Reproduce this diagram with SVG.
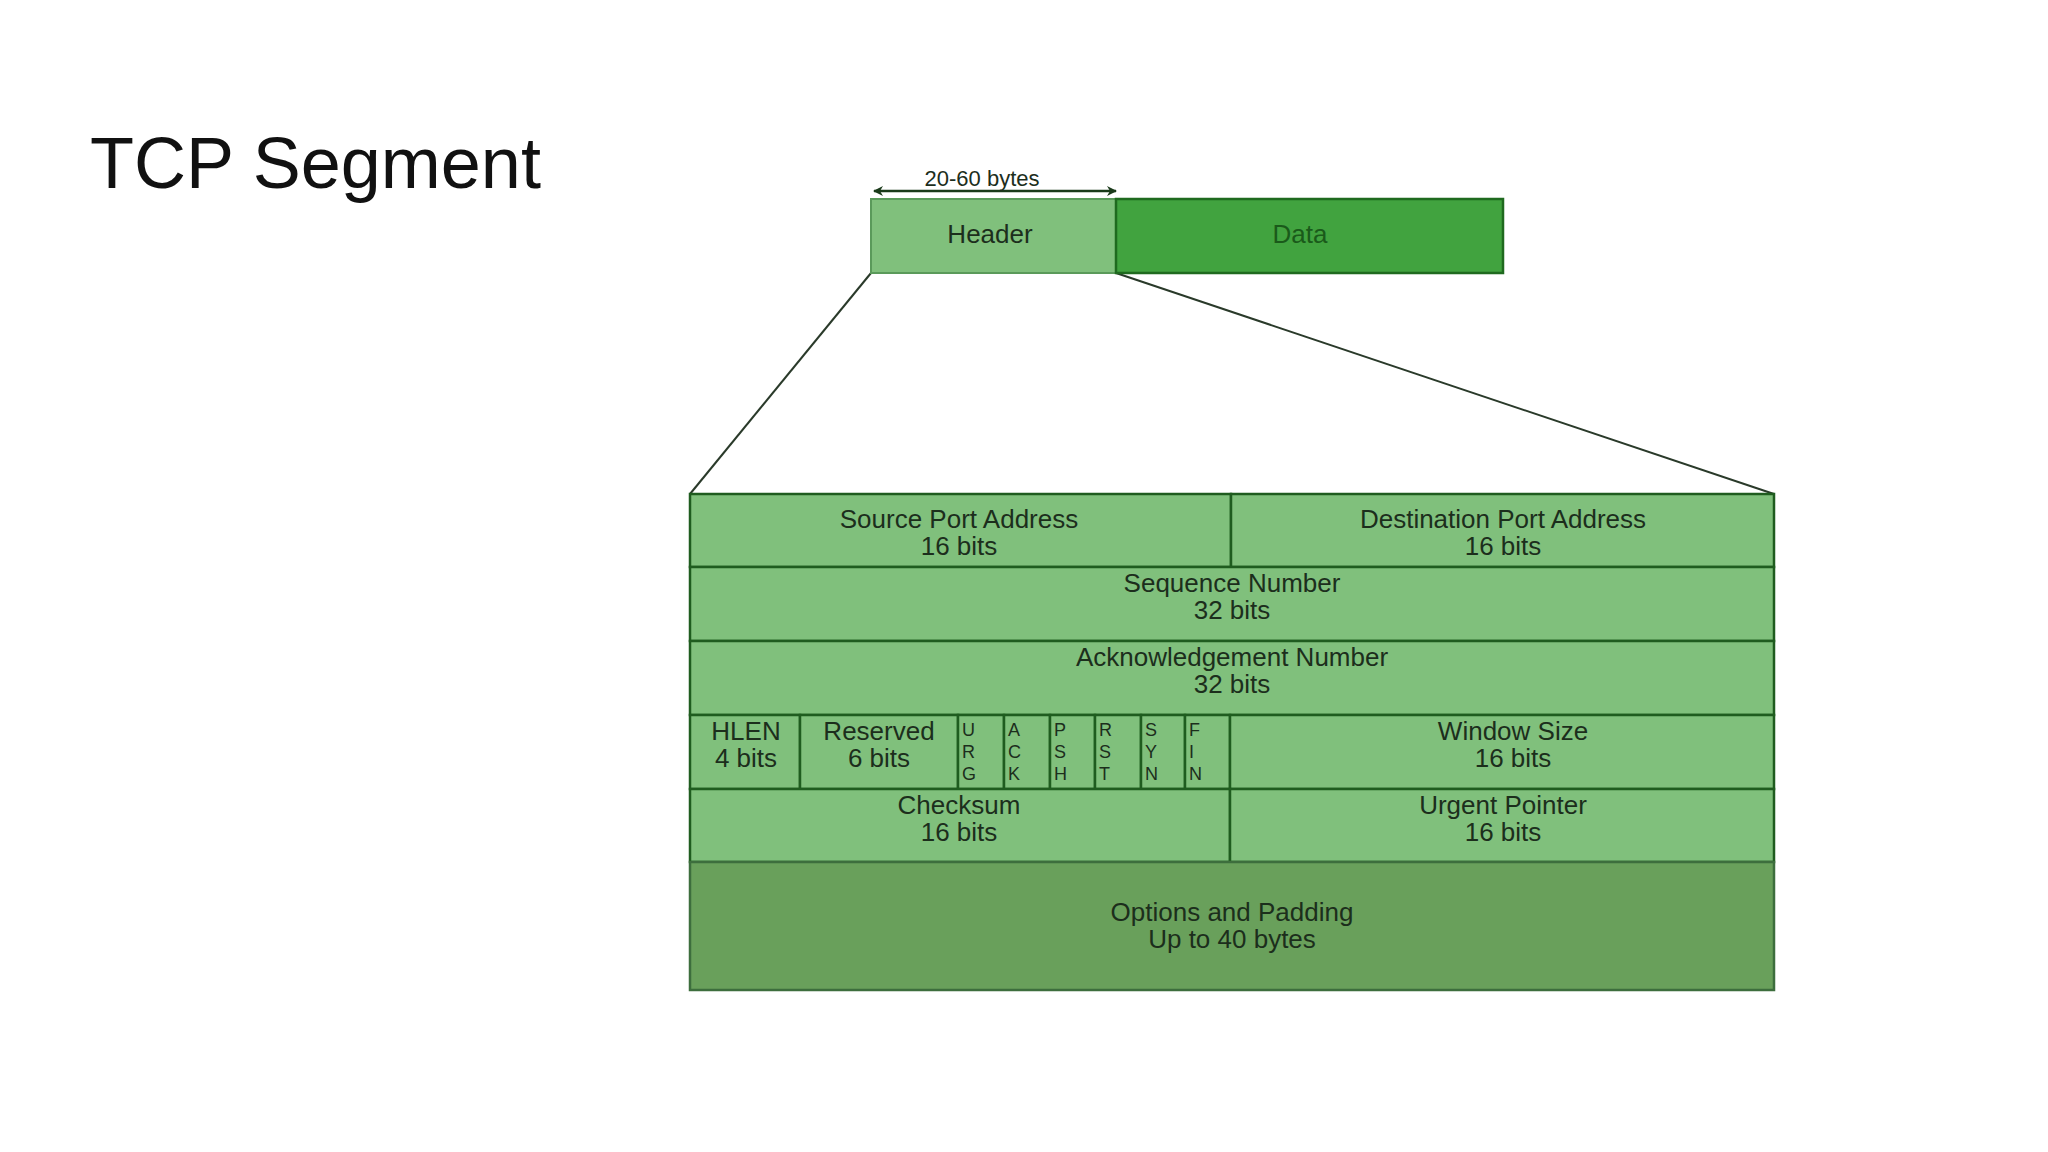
<svg xmlns="http://www.w3.org/2000/svg" width="2048" height="1152" viewBox="0 0 2048 1152">
<style>
.c{fill:#80c07c;stroke:#1f5c1f;stroke-width:2.5}
.t{font-family:"Liberation Sans",Arial,sans-serif;font-size:26px;fill:#1c2e1c;text-anchor:middle}
.f{font-family:"Liberation Sans",Arial,sans-serif;font-size:18px;fill:#1c2e1c}
.l{stroke:#2a3a2a;stroke-width:2;fill:none}
</style>
<defs><marker id="a" markerWidth="10" markerHeight="10" refX="9" refY="5" orient="auto-start-reverse" markerUnits="userSpaceOnUse" viewBox="0 0 10 10"><path d="M0,0L10,5L0,10L3,5z" fill="#1a3a1a"/></marker></defs>
<rect width="2048" height="1152" fill="#fff"/>
<text x="90" y="188" font-family="Liberation Sans,Arial,sans-serif" font-size="72" fill="#111">TCP Segment</text>
<g id="connectors">
<line class="l" x1="874" y1="191" x2="1116" y2="191" marker-start="url(#a)" marker-end="url(#a)" style="stroke:#1a3a1a;stroke-width:2.5"/>
<line class="l" x1="871" y1="273" x2="690" y2="494"/>
<line class="l" x1="1116" y1="273" x2="1774" y2="494"/>
</g>
<text class="t" x="982" y="186" style="font-size:22px">20-60 bytes</text>
<g id="header"><rect x="871" y="199" width="245" height="74" fill="#80c07c" stroke="#5a9a5a" stroke-width="2"/><text class="t" x="990" y="243">Header</text></g>
<g id="data"><rect x="1116" y="199" width="387" height="74" fill="#41a33f" stroke="#1f6a1f" stroke-width="2.5"/><text class="t" x="1300" y="243" style="fill:#1a5a1a">Data</text></g>
<g id="src"><rect class="c" x="690" y="494" width="541" height="73"/><text class="t" x="959" y="528">Source Port Address</text><text class="t" x="959" y="555">16 bits</text></g>
<g id="dst"><rect class="c" x="1231" y="494" width="543" height="73"/><text class="t" x="1503" y="528">Destination Port Address</text><text class="t" x="1503" y="555">16 bits</text></g>
<g id="seq"><rect class="c" x="690" y="567" width="1084" height="74"/><text class="t" x="1232" y="592">Sequence Number</text><text class="t" x="1232" y="619">32 bits</text></g>
<g id="ack"><rect class="c" x="690" y="641" width="1084" height="74"/><text class="t" x="1232" y="666">Acknowledgement Number</text><text class="t" x="1232" y="693">32 bits</text></g>
<g id="hlen"><rect class="c" x="690" y="715" width="110" height="74"/><text class="t" x="746" y="740">HLEN</text><text class="t" x="746" y="767">4 bits</text></g>
<g id="res"><rect class="c" x="800" y="715" width="158" height="74"/><text class="t" x="879" y="740">Reserved</text><text class="t" x="879" y="767">6 bits</text></g>
<g id="urg"><rect class="c" x="958" y="715" width="46" height="74"/><text class="f" x="962" y="736">U</text><text class="f" x="962" y="758">R</text><text class="f" x="962" y="780">G</text></g>
<g id="ackf"><rect class="c" x="1004" y="715" width="46" height="74"/><text class="f" x="1008" y="736">A</text><text class="f" x="1008" y="758">C</text><text class="f" x="1008" y="780">K</text></g>
<g id="psh"><rect class="c" x="1050" y="715" width="45" height="74"/><text class="f" x="1054" y="736">P</text><text class="f" x="1054" y="758">S</text><text class="f" x="1054" y="780">H</text></g>
<g id="rst"><rect class="c" x="1095" y="715" width="46" height="74"/><text class="f" x="1099" y="736">R</text><text class="f" x="1099" y="758">S</text><text class="f" x="1099" y="780">T</text></g>
<g id="syn"><rect class="c" x="1141" y="715" width="44" height="74"/><text class="f" x="1145" y="736">S</text><text class="f" x="1145" y="758">Y</text><text class="f" x="1145" y="780">N</text></g>
<g id="fin"><rect class="c" x="1185" y="715" width="45" height="74"/><text class="f" x="1189" y="736">F</text><text class="f" x="1189" y="758">I</text><text class="f" x="1189" y="780">N</text></g>
<g id="win"><rect class="c" x="1230" y="715" width="544" height="74"/><text class="t" x="1513" y="740">Window Size</text><text class="t" x="1513" y="767">16 bits</text></g>
<g id="chk"><rect class="c" x="690" y="789" width="540" height="73"/><text class="t" x="959" y="814">Checksum</text><text class="t" x="959" y="841">16 bits</text></g>
<g id="urgp"><rect class="c" x="1230" y="789" width="544" height="73"/><text class="t" x="1503" y="814">Urgent Pointer</text><text class="t" x="1503" y="841">16 bits</text></g>
<g id="opt"><rect x="690" y="862" width="1084" height="128" fill="#69a05b" stroke="#3d6e3d" stroke-width="2.5"/><text class="t" x="1232" y="921">Options and Padding</text><text class="t" x="1232" y="948">Up to 40 bytes</text></g>
</svg>
